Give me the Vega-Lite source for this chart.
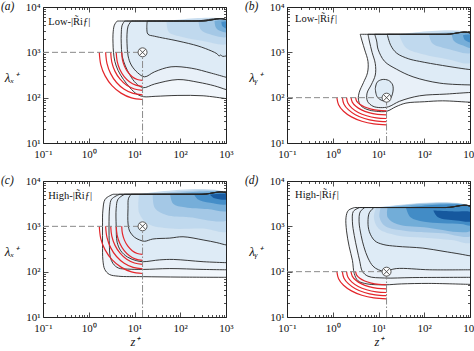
{
 "$schema": "https://vega.github.io/schema/vega-lite/v6.json",
 "padding": {"left": 0, "top": 0, "right": 4, "bottom": 0},
 "background": "white",
 "config": {
  "font": "Liberation Serif",
  "view": {"stroke": "#222", "strokeWidth": 1},
  "style": {"guide-label": {"font": "Liberation Serif", "fontSize": 11}, "guide-title": {"font": "Liberation Serif"}},
  "axis": {"domain": false, "grid": false, "tickColor": "#222", "tickWidth": 0.8, "labelFont": "Liberation Serif", "labelFontSize": 11, "labelColor": "#111", "titleFont": "Liberation Serif", "titleFontSize": 13, "titleFontWeight": "normal", "titleColor": "#111", "labelOverlap": false, "labelFlush": false, "labelBound": false},
  "axisX": {"labelPadding": 10},
  "axisY": {"labelPadding": 8},
  "title": {"font": "Liberation Serif", "fontSize": 11.5, "fontWeight": "normal", "fontStyle": "italic", "color": "#111", "anchor": "start", "frame": "group", "dx": -42, "dy": 15, "offset": 0}
 },
 "datasets": {
  "cont": [
   {"p":"a","id":"a1","lev":1,"i":0,"x":4.17,"y":4900},{"p":"a","id":"a1","lev":1,"i":1,"x":3.63,"y":3980},{"p":"a","id":"a1","lev":1,"i":2,"x":3.39,"y":2510},{"p":"a","id":"a1","lev":1,"i":3,"x":3.39,"y":1585},{"p":"a","id":"a1","lev":1,"i":4,"x":3.47,"y":1000},{"p":"a","id":"a1","lev":1,"i":5,"x":3.72,"y":631},{"p":"a","id":"a1","lev":1,"i":6,"x":4.37,"y":398},{"p":"a","id":"a1","lev":1,"i":7,"x":5.75,"y":251},{"p":"a","id":"a1","lev":1,"i":8,"x":7.94,"y":166},{"p":"a","id":"a1","lev":1,"i":9,"x":11.2,"y":120},{"p":"a","id":"a1","lev":1,"i":10,"x":15.8,"y":105},{"p":"a","id":"a1","lev":1,"i":11,"x":28.2,"y":107},{"p":"a","id":"a1","lev":1,"i":12,"x":89,"y":112},{"p":"a","id":"a1","lev":1,"i":13,"x":316,"y":110},{"p":"a","id":"a1","lev":1,"i":14,"x":1000,"y":95.5},{"p":"a","id":"a1","lev":1,"i":15,"x":1100,"y":95},{"p":"a","id":"a1","lev":1,"i":16,"x":1100,"y":4900},{"p":"a","id":"a1","lev":1,"i":17,"x":300,"y":4900},{"p":"a","id":"a1","lev":1,"i":18,"x":30,"y":4900},{"p":"a","id":"a1","lev":1,"i":19,"x":4.17,"y":4900},
   {"p":"a","id":"a2","lev":2,"i":0,"x":6.1,"y":4900},{"p":"a","id":"a2","lev":2,"i":1,"x":5.37,"y":3980},{"p":"a","id":"a2","lev":2,"i":2,"x":5.13,"y":2510},{"p":"a","id":"a2","lev":2,"i":3,"x":5.13,"y":1585},{"p":"a","id":"a2","lev":2,"i":4,"x":5.37,"y":832},{"p":"a","id":"a2","lev":2,"i":5,"x":6.31,"y":501},{"p":"a","id":"a2","lev":2,"i":6,"x":7.94,"y":316},{"p":"a","id":"a2","lev":2,"i":7,"x":10.7,"y":209},{"p":"a","id":"a2","lev":2,"i":8,"x":15.5,"y":166},{"p":"a","id":"a2","lev":2,"i":9,"x":27.5,"y":200},{"p":"a","id":"a2","lev":2,"i":10,"x":89,"y":251},{"p":"a","id":"a2","lev":2,"i":11,"x":245,"y":219},{"p":"a","id":"a2","lev":2,"i":12,"x":562,"y":182},{"p":"a","id":"a2","lev":2,"i":13,"x":1000,"y":151},{"p":"a","id":"a2","lev":2,"i":14,"x":1100,"y":148},{"p":"a","id":"a2","lev":2,"i":15,"x":1100,"y":4900},{"p":"a","id":"a2","lev":2,"i":16,"x":300,"y":4900},{"p":"a","id":"a2","lev":2,"i":17,"x":30,"y":4900},{"p":"a","id":"a2","lev":2,"i":18,"x":6.1,"y":4900},
   {"p":"a","id":"a3","lev":3,"i":0,"x":8.5,"y":4900},{"p":"a","id":"a3","lev":3,"i":1,"x":7.24,"y":3800},{"p":"a","id":"a3","lev":3,"i":2,"x":6.86,"y":2510},{"p":"a","id":"a3","lev":3,"i":3,"x":6.86,"y":1585},{"p":"a","id":"a3","lev":3,"i":4,"x":7.24,"y":832},{"p":"a","id":"a3","lev":3,"i":5,"x":8.5,"y":525},{"p":"a","id":"a3","lev":3,"i":6,"x":11.7,"y":355},{"p":"a","id":"a3","lev":3,"i":7,"x":16.6,"y":288},{"p":"a","id":"a3","lev":3,"i":8,"x":27.5,"y":372},{"p":"a","id":"a3","lev":3,"i":9,"x":63,"y":479},{"p":"a","id":"a3","lev":3,"i":10,"x":174,"y":447},{"p":"a","id":"a3","lev":3,"i":11,"x":479,"y":347},{"p":"a","id":"a3","lev":3,"i":12,"x":1000,"y":282},{"p":"a","id":"a3","lev":3,"i":13,"x":1100,"y":275},{"p":"a","id":"a3","lev":3,"i":14,"x":1100,"y":4900},{"p":"a","id":"a3","lev":3,"i":15,"x":300,"y":4900},{"p":"a","id":"a3","lev":3,"i":16,"x":40,"y":4900},{"p":"a","id":"a3","lev":3,"i":17,"x":8.5,"y":4900},
   {"p":"a","id":"a4","lev":4,"i":0,"x":19,"y":4900},{"p":"a","id":"a4","lev":4,"i":1,"x":18.6,"y":3548},{"p":"a","id":"a4","lev":4,"i":2,"x":19.7,"y":2510},{"p":"a","id":"a4","lev":4,"i":3,"x":27.5,"y":2265},{"p":"a","id":"a4","lev":4,"i":4,"x":89,"y":1778},{"p":"a","id":"a4","lev":4,"i":5,"x":245,"y":1380},{"p":"a","id":"a4","lev":4,"i":6,"x":479,"y":1072},{"p":"a","id":"a4","lev":4,"i":7,"x":631,"y":933},{"p":"a","id":"a4","lev":4,"i":8,"x":708,"y":832},{"p":"a","id":"a4","lev":4,"i":9,"x":759,"y":871},{"p":"a","id":"a4","lev":4,"i":10,"x":851,"y":813},{"p":"a","id":"a4","lev":4,"i":11,"x":1000,"y":832},{"p":"a","id":"a4","lev":4,"i":12,"x":1100,"y":832},{"p":"a","id":"a4","lev":4,"i":13,"x":1100,"y":4900},{"p":"a","id":"a4","lev":4,"i":14,"x":200,"y":4900},{"p":"a","id":"a4","lev":4,"i":15,"x":19,"y":4900},

   {"p":"b","id":"b1","lev":1,"i":0,"x":3.98,"y":2500},{"p":"b","id":"b1","lev":1,"i":1,"x":4.37,"y":1778},{"p":"b","id":"b1","lev":1,"i":2,"x":5.01,"y":1122},{"p":"b","id":"b1","lev":1,"i":3,"x":5.89,"y":631},{"p":"b","id":"b1","lev":1,"i":4,"x":5.75,"y":355},{"p":"b","id":"b1","lev":1,"i":5,"x":4.68,"y":214},{"p":"b","id":"b1","lev":1,"i":6,"x":3.8,"y":132},{"p":"b","id":"b1","lev":1,"i":7,"x":3.63,"y":93},{"p":"b","id":"b1","lev":1,"i":8,"x":4.07,"y":67.6},{"p":"b","id":"b1","lev":1,"i":9,"x":5.62,"y":55},{"p":"b","id":"b1","lev":1,"i":10,"x":8.91,"y":50.1},{"p":"b","id":"b1","lev":1,"i":11,"x":15.1,"y":50.1},{"p":"b","id":"b1","lev":1,"i":12,"x":24,"y":63.1},{"p":"b","id":"b1","lev":1,"i":13,"x":39.8,"y":75.9},{"p":"b","id":"b1","lev":1,"i":14,"x":100,"y":81.3},{"p":"b","id":"b1","lev":1,"i":15,"x":251,"y":85.1},{"p":"b","id":"b1","lev":1,"i":16,"x":1000,"y":79.4},{"p":"b","id":"b1","lev":1,"i":17,"x":1100,"y":79.4},{"p":"b","id":"b1","lev":1,"i":18,"x":1100,"y":2500},{"p":"b","id":"b1","lev":1,"i":19,"x":300,"y":2500},{"p":"b","id":"b1","lev":1,"i":20,"x":30,"y":2500},{"p":"b","id":"b1","lev":1,"i":21,"x":3.98,"y":2500},
   {"p":"b","id":"b2","lev":2,"i":0,"x":5.89,"y":2500},{"p":"b","id":"b2","lev":2,"i":1,"x":6.31,"y":1778},{"p":"b","id":"b2","lev":2,"i":2,"x":7.24,"y":1000},{"p":"b","id":"b2","lev":2,"i":3,"x":8.51,"y":562},{"p":"b","id":"b2","lev":2,"i":4,"x":8.51,"y":316},{"p":"b","id":"b2","lev":2,"i":5,"x":6.92,"y":191},{"p":"b","id":"b2","lev":2,"i":6,"x":5.62,"y":126},{"p":"b","id":"b2","lev":2,"i":7,"x":5.75,"y":83.2},{"p":"b","id":"b2","lev":2,"i":8,"x":7.59,"y":64.6},{"p":"b","id":"b2","lev":2,"i":9,"x":11.2,"y":60.3},{"p":"b","id":"b2","lev":2,"i":10,"x":16.6,"y":63.1},{"p":"b","id":"b2","lev":2,"i":11,"x":28.8,"y":83.2},{"p":"b","id":"b2","lev":2,"i":12,"x":79.4,"y":110},{"p":"b","id":"b2","lev":2,"i":13,"x":302,"y":120},{"p":"b","id":"b2","lev":2,"i":14,"x":1000,"y":130},{"p":"b","id":"b2","lev":2,"i":15,"x":1100,"y":130},{"p":"b","id":"b2","lev":2,"i":16,"x":1100,"y":2500},{"p":"b","id":"b2","lev":2,"i":17,"x":300,"y":2500},{"p":"b","id":"b2","lev":2,"i":18,"x":30,"y":2500},{"p":"b","id":"b2","lev":2,"i":19,"x":5.89,"y":2500},
   {"p":"b","id":"b3","lev":3,"i":0,"x":8.26,"y":2500},{"p":"b","id":"b3","lev":3,"i":1,"x":9.12,"y":1778},{"p":"b","id":"b3","lev":3,"i":2,"x":9.77,"y":1175},{"p":"b","id":"b3","lev":3,"i":3,"x":13.6,"y":631},{"p":"b","id":"b3","lev":3,"i":4,"x":24.5,"y":427},{"p":"b","id":"b3","lev":3,"i":5,"x":56.9,"y":288},{"p":"b","id":"b3","lev":3,"i":6,"x":219,"y":209},{"p":"b","id":"b3","lev":3,"i":7,"x":1000,"y":191},{"p":"b","id":"b3","lev":3,"i":8,"x":1100,"y":191},{"p":"b","id":"b3","lev":3,"i":9,"x":1100,"y":2500},{"p":"b","id":"b3","lev":3,"i":10,"x":300,"y":2500},{"p":"b","id":"b3","lev":3,"i":11,"x":30,"y":2500},{"p":"b","id":"b3","lev":3,"i":12,"x":8.26,"y":2500},
   {"p":"b","id":"b4","lev":4,"i":0,"x":15.5,"y":2500},{"p":"b","id":"b4","lev":4,"i":1,"x":18.6,"y":1413},{"p":"b","id":"b4","lev":4,"i":2,"x":25.1,"y":955},{"p":"b","id":"b4","lev":4,"i":3,"x":44.7,"y":724},{"p":"b","id":"b4","lev":4,"i":4,"x":79.4,"y":631},{"p":"b","id":"b4","lev":4,"i":5,"x":251,"y":513},{"p":"b","id":"b4","lev":4,"i":6,"x":1000,"y":417},{"p":"b","id":"b4","lev":4,"i":7,"x":1100,"y":417},{"p":"b","id":"b4","lev":4,"i":8,"x":1100,"y":2500},{"p":"b","id":"b4","lev":4,"i":9,"x":300,"y":2500},{"p":"b","id":"b4","lev":4,"i":10,"x":40,"y":2500},{"p":"b","id":"b4","lev":4,"i":11,"x":15.5,"y":2500},
   {"p":"b","id":"b5","lev":3,"i":0,"x":8.51,"y":158},{"p":"b","id":"b5","lev":3,"i":1,"x":9.33,"y":219},{"p":"b","id":"b5","lev":3,"i":2,"x":12,"y":251},{"p":"b","id":"b5","lev":3,"i":3,"x":16.6,"y":240},{"p":"b","id":"b5","lev":3,"i":4,"x":20.4,"y":191},{"p":"b","id":"b5","lev":3,"i":5,"x":20.4,"y":126},{"p":"b","id":"b5","lev":3,"i":6,"x":17.4,"y":91.2},{"p":"b","id":"b5","lev":3,"i":7,"x":12.6,"y":85.1},{"p":"b","id":"b5","lev":3,"i":8,"x":9.33,"y":105},{"p":"b","id":"b5","lev":3,"i":9,"x":8.51,"y":158},

   {"p":"c","id":"c1","lev":1,"i":0,"x":3.39,"y":5100},{"p":"c","id":"c1","lev":1,"i":1,"x":2.29,"y":3980},{"p":"c","id":"c1","lev":1,"i":2,"x":2.04,"y":2290},{"p":"c","id":"c1","lev":1,"i":3,"x":2,"y":1000},{"p":"c","id":"c1","lev":1,"i":4,"x":2,"y":398},{"p":"c","id":"c1","lev":1,"i":5,"x":2.04,"y":178},{"p":"c","id":"c1","lev":1,"i":6,"x":2.24,"y":112},{"p":"c","id":"c1","lev":1,"i":7,"x":2.82,"y":87},{"p":"c","id":"c1","lev":1,"i":8,"x":4.47,"y":79.4},{"p":"c","id":"c1","lev":1,"i":9,"x":15.5,"y":77.6},{"p":"c","id":"c1","lev":1,"i":10,"x":100,"y":75.9},{"p":"c","id":"c1","lev":1,"i":11,"x":1000,"y":75},{"p":"c","id":"c1","lev":1,"i":12,"x":1100,"y":75},{"p":"c","id":"c1","lev":1,"i":13,"x":1100,"y":5100},{"p":"c","id":"c1","lev":1,"i":14,"x":300,"y":5100},{"p":"c","id":"c1","lev":1,"i":15,"x":30,"y":5100},{"p":"c","id":"c1","lev":1,"i":16,"x":3.39,"y":5100},
   {"p":"c","id":"c2","lev":2,"i":0,"x":4.75,"y":5100},{"p":"c","id":"c2","lev":2,"i":1,"x":3.16,"y":3980},{"p":"c","id":"c2","lev":2,"i":2,"x":2.87,"y":2690},{"p":"c","id":"c2","lev":2,"i":3,"x":2.77,"y":1000},{"p":"c","id":"c2","lev":2,"i":4,"x":2.82,"y":398},{"p":"c","id":"c2","lev":2,"i":5,"x":2.95,"y":214},{"p":"c","id":"c2","lev":2,"i":6,"x":3.39,"y":151},{"p":"c","id":"c2","lev":2,"i":7,"x":4.47,"y":120},{"p":"c","id":"c2","lev":2,"i":8,"x":7.08,"y":114},{"p":"c","id":"c2","lev":2,"i":9,"x":15.5,"y":112},{"p":"c","id":"c2","lev":2,"i":10,"x":59,"y":117},{"p":"c","id":"c2","lev":2,"i":11,"x":316,"y":112},{"p":"c","id":"c2","lev":2,"i":12,"x":1000,"y":110},{"p":"c","id":"c2","lev":2,"i":13,"x":1100,"y":110},{"p":"c","id":"c2","lev":2,"i":14,"x":1100,"y":5100},{"p":"c","id":"c2","lev":2,"i":15,"x":300,"y":5100},{"p":"c","id":"c2","lev":2,"i":16,"x":30,"y":5100},{"p":"c","id":"c2","lev":2,"i":17,"x":4.75,"y":5100},
   {"p":"c","id":"c3","lev":3,"i":0,"x":6.1,"y":5100},{"p":"c","id":"c3","lev":3,"i":1,"x":4.37,"y":3980},{"p":"c","id":"c3","lev":3,"i":2,"x":3.98,"y":2510},{"p":"c","id":"c3","lev":3,"i":3,"x":3.98,"y":1000},{"p":"c","id":"c3","lev":3,"i":4,"x":4.17,"y":447},{"p":"c","id":"c3","lev":3,"i":5,"x":5.01,"y":288},{"p":"c","id":"c3","lev":3,"i":6,"x":7.08,"y":209},{"p":"c","id":"c3","lev":3,"i":7,"x":11.2,"y":174},{"p":"c","id":"c3","lev":3,"i":8,"x":15.5,"y":166},{"p":"c","id":"c3","lev":3,"i":9,"x":35.5,"y":182},{"p":"c","id":"c3","lev":3,"i":10,"x":71,"y":186},{"p":"c","id":"c3","lev":3,"i":11,"x":316,"y":166},{"p":"c","id":"c3","lev":3,"i":12,"x":1000,"y":158},{"p":"c","id":"c3","lev":3,"i":13,"x":1100,"y":158},{"p":"c","id":"c3","lev":3,"i":14,"x":1100,"y":5100},{"p":"c","id":"c3","lev":3,"i":15,"x":300,"y":5100},{"p":"c","id":"c3","lev":3,"i":16,"x":30,"y":5100},{"p":"c","id":"c3","lev":3,"i":17,"x":6.1,"y":5100},
   {"p":"c","id":"c4","lev":4,"i":0,"x":8.5,"y":5100},{"p":"c","id":"c4","lev":4,"i":1,"x":7.41,"y":4169},{"p":"c","id":"c4","lev":4,"i":2,"x":7.21,"y":2510},{"p":"c","id":"c4","lev":4,"i":3,"x":7.24,"y":1122},{"p":"c","id":"c4","lev":4,"i":4,"x":7.94,"y":759},{"p":"c","id":"c4","lev":4,"i":5,"x":10,"y":575},{"p":"c","id":"c4","lev":4,"i":6,"x":12.9,"y":501},{"p":"c","id":"c4","lev":4,"i":7,"x":16.6,"y":468},{"p":"c","id":"c4","lev":4,"i":8,"x":25.1,"y":525},{"p":"c","id":"c4","lev":4,"i":9,"x":59,"y":550},{"p":"c","id":"c4","lev":4,"i":10,"x":115,"y":589},{"p":"c","id":"c4","lev":4,"i":11,"x":316,"y":501},{"p":"c","id":"c4","lev":4,"i":12,"x":631,"y":437},{"p":"c","id":"c4","lev":4,"i":13,"x":1000,"y":389},{"p":"c","id":"c4","lev":4,"i":14,"x":1100,"y":389},{"p":"c","id":"c4","lev":4,"i":15,"x":1100,"y":5100},{"p":"c","id":"c4","lev":4,"i":16,"x":300,"y":5100},{"p":"c","id":"c4","lev":4,"i":17,"x":30,"y":5100},{"p":"c","id":"c4","lev":4,"i":18,"x":8.5,"y":5100},

   {"p":"d","id":"d1","lev":1,"i":0,"x":3.02,"y":2600},{"p":"d","id":"d1","lev":1,"i":1,"x":2.19,"y":2239},{"p":"d","id":"d1","lev":1,"i":2,"x":1.95,"y":1585},{"p":"d","id":"d1","lev":1,"i":3,"x":2,"y":794},{"p":"d","id":"d1","lev":1,"i":4,"x":2.29,"y":355},{"p":"d","id":"d1","lev":1,"i":5,"x":2.69,"y":178},{"p":"d","id":"d1","lev":1,"i":6,"x":2.95,"y":91.2},{"p":"d","id":"d1","lev":1,"i":7,"x":3.55,"y":63.1},{"p":"d","id":"d1","lev":1,"i":8,"x":5.62,"y":53.7},{"p":"d","id":"d1","lev":1,"i":9,"x":14.1,"y":51.3},{"p":"d","id":"d1","lev":1,"i":10,"x":31.6,"y":53.7},{"p":"d","id":"d1","lev":1,"i":11,"x":126,"y":55},{"p":"d","id":"d1","lev":1,"i":12,"x":1000,"y":52.5},{"p":"d","id":"d1","lev":1,"i":13,"x":1100,"y":52.5},{"p":"d","id":"d1","lev":1,"i":14,"x":1100,"y":2600},{"p":"d","id":"d1","lev":1,"i":15,"x":300,"y":2600},{"p":"d","id":"d1","lev":1,"i":16,"x":30,"y":2600},{"p":"d","id":"d1","lev":1,"i":17,"x":3.02,"y":2600},
   {"p":"d","id":"d2","lev":2,"i":0,"x":3.89,"y":2600},{"p":"d","id":"d2","lev":2,"i":1,"x":2.82,"y":2138},{"p":"d","id":"d2","lev":2,"i":2,"x":2.69,"y":1259},{"p":"d","id":"d2","lev":2,"i":3,"x":2.95,"y":631},{"p":"d","id":"d2","lev":2,"i":4,"x":3.39,"y":316},{"p":"d","id":"d2","lev":2,"i":5,"x":3.89,"y":170},{"p":"d","id":"d2","lev":2,"i":6,"x":4.43,"y":102},{"p":"d","id":"d2","lev":2,"i":7,"x":5.89,"y":79.4},{"p":"d","id":"d2","lev":2,"i":8,"x":13.6,"y":72.4},{"p":"d","id":"d2","lev":2,"i":9,"x":56.2,"y":74.1},{"p":"d","id":"d2","lev":2,"i":10,"x":1000,"y":75},{"p":"d","id":"d2","lev":2,"i":11,"x":1100,"y":75},{"p":"d","id":"d2","lev":2,"i":12,"x":1100,"y":2600},{"p":"d","id":"d2","lev":2,"i":13,"x":300,"y":2600},{"p":"d","id":"d2","lev":2,"i":14,"x":30,"y":2600},{"p":"d","id":"d2","lev":2,"i":15,"x":3.89,"y":2600},
   {"p":"d","id":"d3","lev":3,"i":0,"x":5.01,"y":2600},{"p":"d","id":"d3","lev":3,"i":1,"x":3.98,"y":2089},{"p":"d","id":"d3","lev":3,"i":2,"x":3.76,"y":1259},{"p":"d","id":"d3","lev":3,"i":3,"x":4.17,"y":631},{"p":"d","id":"d3","lev":3,"i":4,"x":4.79,"y":355},{"p":"d","id":"d3","lev":3,"i":5,"x":5.89,"y":200},{"p":"d","id":"d3","lev":3,"i":6,"x":7.59,"y":132},{"p":"d","id":"d3","lev":3,"i":7,"x":10,"y":110},{"p":"d","id":"d3","lev":3,"i":8,"x":13.6,"y":102},{"p":"d","id":"d3","lev":3,"i":9,"x":24.5,"y":117},{"p":"d","id":"d3","lev":3,"i":10,"x":132,"y":110},{"p":"d","id":"d3","lev":3,"i":11,"x":1000,"y":110},{"p":"d","id":"d3","lev":3,"i":12,"x":1100,"y":110},{"p":"d","id":"d3","lev":3,"i":13,"x":1100,"y":2600},{"p":"d","id":"d3","lev":3,"i":14,"x":300,"y":2600},{"p":"d","id":"d3","lev":3,"i":15,"x":30,"y":2600},{"p":"d","id":"d3","lev":3,"i":16,"x":5.01,"y":2600},
   {"p":"d","id":"d4","lev":4,"i":0,"x":7.94,"y":2600},{"p":"d","id":"d4","lev":4,"i":1,"x":6.31,"y":1995},{"p":"d","id":"d4","lev":4,"i":2,"x":5.89,"y":1259},{"p":"d","id":"d4","lev":4,"i":3,"x":6.31,"y":759},{"p":"d","id":"d4","lev":4,"i":4,"x":8.32,"y":479},{"p":"d","id":"d4","lev":4,"i":5,"x":12.6,"y":398},{"p":"d","id":"d4","lev":4,"i":6,"x":24.5,"y":363},{"p":"d","id":"d4","lev":4,"i":7,"x":93.3,"y":331},{"p":"d","id":"d4","lev":4,"i":8,"x":257,"y":282},{"p":"d","id":"d4","lev":4,"i":9,"x":603,"y":245},{"p":"d","id":"d4","lev":4,"i":10,"x":1000,"y":224},{"p":"d","id":"d4","lev":4,"i":11,"x":1100,"y":224},{"p":"d","id":"d4","lev":4,"i":12,"x":1100,"y":2600},{"p":"d","id":"d4","lev":4,"i":13,"x":300,"y":2600},{"p":"d","id":"d4","lev":4,"i":14,"x":30,"y":2600},{"p":"d","id":"d4","lev":4,"i":15,"x":7.94,"y":2600}
  ],
  "shade": [
   {"p":"a","id":"sa1","lev":5,"i":0,"x":50.1,"y":4900},{"p":"a","id":"sa1","lev":5,"i":1,"x":56.2,"y":2818},{"p":"a","id":"sa1","lev":5,"i":2,"x":100,"y":2239},{"p":"a","id":"sa1","lev":5,"i":3,"x":316,"y":1778},{"p":"a","id":"sa1","lev":5,"i":4,"x":1100,"y":1585},{"p":"a","id":"sa1","lev":5,"i":5,"x":1100,"y":4900},{"p":"a","id":"sa1","lev":5,"i":6,"x":50.1,"y":4900},
   {"p":"a","id":"sa2","lev":6,"i":0,"x":251,"y":4900},{"p":"a","id":"sa2","lev":6,"i":1,"x":282,"y":3162},{"p":"a","id":"sa2","lev":6,"i":2,"x":447,"y":2512},{"p":"a","id":"sa2","lev":6,"i":3,"x":1100,"y":2239},{"p":"a","id":"sa2","lev":6,"i":4,"x":1100,"y":4900},{"p":"a","id":"sa2","lev":6,"i":5,"x":251,"y":4900},
   {"p":"a","id":"sa3","lev":7,"i":0,"x":562,"y":4900},{"p":"a","id":"sa3","lev":7,"i":1,"x":600,"y":3548},{"p":"a","id":"sa3","lev":7,"i":2,"x":760,"y":2951},{"p":"a","id":"sa3","lev":7,"i":3,"x":1100,"y":2818},{"p":"a","id":"sa3","lev":7,"i":4,"x":1100,"y":4900},{"p":"a","id":"sa3","lev":7,"i":5,"x":562,"y":4900},
   {"p":"a","id":"sa4","lev":8,"i":0,"x":794,"y":4700},{"p":"a","id":"sa4","lev":8,"i":1,"x":830,"y":3800},{"p":"a","id":"sa4","lev":8,"i":2,"x":1100,"y":3300},{"p":"a","id":"sa4","lev":8,"i":3,"x":1100,"y":4700},{"p":"a","id":"sa4","lev":8,"i":4,"x":794,"y":4700},
   {"p":"b","id":"sb1","lev":5,"i":0,"x":28.2,"y":2500},{"p":"b","id":"sb1","lev":5,"i":1,"x":39.8,"y":1259},{"p":"b","id":"sb1","lev":5,"i":2,"x":100,"y":891},{"p":"b","id":"sb1","lev":5,"i":3,"x":316,"y":708},{"p":"b","id":"sb1","lev":5,"i":4,"x":1100,"y":603},{"p":"b","id":"sb1","lev":5,"i":5,"x":1100,"y":2500},{"p":"b","id":"sb1","lev":5,"i":6,"x":28.2,"y":2500},
   {"p":"b","id":"sb2","lev":6,"i":0,"x":126,"y":2500},{"p":"b","id":"sb2","lev":6,"i":1,"x":150,"y":1585},{"p":"b","id":"sb2","lev":6,"i":2,"x":316,"y":1202},{"p":"b","id":"sb2","lev":6,"i":3,"x":1100,"y":1000},{"p":"b","id":"sb2","lev":6,"i":4,"x":1100,"y":2500},{"p":"b","id":"sb2","lev":6,"i":5,"x":126,"y":2500},
   {"p":"b","id":"sb3","lev":7,"i":0,"x":398,"y":2500},{"p":"b","id":"sb3","lev":7,"i":1,"x":447,"y":1778},{"p":"b","id":"sb3","lev":7,"i":2,"x":708,"y":1413},{"p":"b","id":"sb3","lev":7,"i":3,"x":1100,"y":1259},{"p":"b","id":"sb3","lev":7,"i":4,"x":1100,"y":2500},{"p":"b","id":"sb3","lev":7,"i":5,"x":398,"y":2500},
   {"p":"b","id":"sb4","lev":8,"i":0,"x":708,"y":2400},{"p":"b","id":"sb4","lev":8,"i":1,"x":760,"y":1905},{"p":"b","id":"sb4","lev":8,"i":2,"x":1100,"y":1660},{"p":"b","id":"sb4","lev":8,"i":3,"x":1100,"y":2400},{"p":"b","id":"sb4","lev":8,"i":4,"x":708,"y":2400},
   {"p":"c","id":"sc1","lev":5,"i":0,"x":12.6,"y":5100},{"p":"c","id":"sc1","lev":5,"i":1,"x":12.6,"y":1995},{"p":"c","id":"sc1","lev":5,"i":2,"x":20,"y":1122},{"p":"c","id":"sc1","lev":5,"i":3,"x":63.1,"y":891},{"p":"c","id":"sc1","lev":5,"i":4,"x":316,"y":891},{"p":"c","id":"sc1","lev":5,"i":5,"x":1100,"y":794},{"p":"c","id":"sc1","lev":5,"i":6,"x":1100,"y":5100},{"p":"c","id":"sc1","lev":5,"i":7,"x":12.6,"y":5100},
   {"p":"c","id":"sc2","lev":6,"i":0,"x":25,"y":5100},{"p":"c","id":"sc2","lev":6,"i":1,"x":28,"y":2512},{"p":"c","id":"sc2","lev":6,"i":2,"x":50,"y":1778},{"p":"c","id":"sc2","lev":6,"i":3,"x":158,"y":1585},{"p":"c","id":"sc2","lev":6,"i":4,"x":1100,"y":1413},{"p":"c","id":"sc2","lev":6,"i":5,"x":1100,"y":5100},{"p":"c","id":"sc2","lev":6,"i":6,"x":25,"y":5100},
   {"p":"c","id":"sc3","lev":7,"i":0,"x":60,"y":5100},{"p":"c","id":"sc3","lev":7,"i":1,"x":70,"y":3162},{"p":"c","id":"sc3","lev":7,"i":2,"x":126,"y":2630},{"p":"c","id":"sc3","lev":7,"i":3,"x":398,"y":2399},{"p":"c","id":"sc3","lev":7,"i":4,"x":1100,"y":2239},{"p":"c","id":"sc3","lev":7,"i":5,"x":1100,"y":5100},{"p":"c","id":"sc3","lev":7,"i":6,"x":60,"y":5100},
   {"p":"c","id":"sc4","lev":8,"i":0,"x":200,"y":5100},{"p":"c","id":"sc4","lev":8,"i":1,"x":240,"y":3981},{"p":"c","id":"sc4","lev":8,"i":2,"x":447,"y":3311},{"p":"c","id":"sc4","lev":8,"i":3,"x":1100,"y":3162},{"p":"c","id":"sc4","lev":8,"i":4,"x":1100,"y":5100},{"p":"c","id":"sc4","lev":8,"i":5,"x":200,"y":5100},
   {"p":"c","id":"sc5","lev":9,"i":0,"x":447,"y":5000},{"p":"c","id":"sc5","lev":9,"i":1,"x":562,"y":4169},{"p":"c","id":"sc5","lev":9,"i":2,"x":1100,"y":3981},{"p":"c","id":"sc5","lev":9,"i":3,"x":1100,"y":5000},{"p":"c","id":"sc5","lev":9,"i":4,"x":447,"y":5000},
   {"p":"d","id":"sd1","lev":5,"i":0,"x":8.91,"y":2600},{"p":"d","id":"sd1","lev":5,"i":1,"x":7.94,"y":1585},{"p":"d","id":"sd1","lev":5,"i":2,"x":10,"y":891},{"p":"d","id":"sd1","lev":5,"i":3,"x":25.1,"y":631},{"p":"d","id":"sd1","lev":5,"i":4,"x":100,"y":562},{"p":"d","id":"sd1","lev":5,"i":5,"x":398,"y":501},{"p":"d","id":"sd1","lev":5,"i":6,"x":1100,"y":447},{"p":"d","id":"sd1","lev":5,"i":7,"x":1100,"y":2600},{"p":"d","id":"sd1","lev":5,"i":8,"x":8.91,"y":2600},
   {"p":"d","id":"sd2","lev":6,"i":0,"x":11.2,"y":2600},{"p":"d","id":"sd2","lev":6,"i":1,"x":10.5,"y":1585},{"p":"d","id":"sd2","lev":6,"i":2,"x":14.1,"y":1000},{"p":"d","id":"sd2","lev":6,"i":3,"x":39.8,"y":794},{"p":"d","id":"sd2","lev":6,"i":4,"x":251,"y":708},{"p":"d","id":"sd2","lev":6,"i":5,"x":1100,"y":631},{"p":"d","id":"sd2","lev":6,"i":6,"x":1100,"y":2600},{"p":"d","id":"sd2","lev":6,"i":7,"x":11.2,"y":2600},
   {"p":"d","id":"sd3","lev":7,"i":0,"x":15.8,"y":2600},{"p":"d","id":"sd3","lev":7,"i":1,"x":15.8,"y":1585},{"p":"d","id":"sd3","lev":7,"i":2,"x":25.1,"y":1122},{"p":"d","id":"sd3","lev":7,"i":3,"x":100,"y":955},{"p":"d","id":"sd3","lev":7,"i":4,"x":1100,"y":832},{"p":"d","id":"sd3","lev":7,"i":5,"x":1100,"y":2600},{"p":"d","id":"sd3","lev":7,"i":6,"x":15.8,"y":2600},
   {"p":"d","id":"sd4","lev":8,"i":0,"x":39.8,"y":2600},{"p":"d","id":"sd4","lev":8,"i":1,"x":50.1,"y":1585},{"p":"d","id":"sd4","lev":8,"i":2,"x":100,"y":1259},{"p":"d","id":"sd4","lev":8,"i":3,"x":631,"y":1122},{"p":"d","id":"sd4","lev":8,"i":4,"x":1100,"y":1072},{"p":"d","id":"sd4","lev":8,"i":5,"x":1100,"y":2600},{"p":"d","id":"sd4","lev":8,"i":6,"x":39.8,"y":2600},
   {"p":"d","id":"sd5","lev":9,"i":0,"x":158,"y":2239},{"p":"d","id":"sd5","lev":9,"i":1,"x":200,"y":1585},{"p":"d","id":"sd5","lev":9,"i":2,"x":501,"y":1349},{"p":"d","id":"sd5","lev":9,"i":3,"x":1100,"y":1318},{"p":"d","id":"sd5","lev":9,"i":4,"x":1100,"y":1995},{"p":"d","id":"sd5","lev":9,"i":5,"x":398,"y":2138},{"p":"d","id":"sd5","lev":9,"i":6,"x":158,"y":2239}
  ],
  "red": [
   {"s":"ac","id":"r1","i":0,"x":1.7,"y":1000},{"s":"ac","id":"r1","i":1,"x":1.83,"y":538},{"s":"ac","id":"r1","i":2,"x":2.28,"y":302},{"s":"ac","id":"r1","i":3,"x":3.22,"y":184},{"s":"ac","id":"r1","i":4,"x":5.07,"y":126},{"s":"ac","id":"r1","i":5,"x":8.59,"y":98.9},{"s":"ac","id":"r1","i":6,"x":15,"y":91.2},
   {"s":"ac","id":"r2","i":0,"x":2.34,"y":1000},{"s":"ac","id":"r2","i":1,"x":2.5,"y":571},{"s":"ac","id":"r2","i":2,"x":3.01,"y":339},{"s":"ac","id":"r2","i":3,"x":4.05,"y":216},{"s":"ac","id":"r2","i":4,"x":5.96,"y":153},{"s":"ac","id":"r2","i":5,"x":9.33,"y":124},{"s":"ac","id":"r2","i":6,"x":15,"y":115},
   {"s":"ac","id":"r3","i":0,"x":3.02,"y":1000},{"s":"ac","id":"r3","i":1,"x":3.19,"y":605},{"s":"ac","id":"r3","i":2,"x":3.75,"y":380},{"s":"ac","id":"r3","i":3,"x":4.84,"y":255},{"s":"ac","id":"r3","i":4,"x":6.76,"y":187},{"s":"ac","id":"r3","i":5,"x":9.98,"y":155},{"s":"ac","id":"r3","i":6,"x":15,"y":145},
   {"s":"ac","id":"r4","i":0,"x":3.98,"y":1000},{"s":"ac","id":"r4","i":1,"x":4.17,"y":640},{"s":"ac","id":"r4","i":2,"x":4.76,"y":422},{"s":"ac","id":"r4","i":3,"x":5.89,"y":295},{"s":"ac","id":"r4","i":4,"x":7.76,"y":224},{"s":"ac","id":"r4","i":5,"x":10.7,"y":189},{"s":"ac","id":"r4","i":6,"x":15,"y":178},
   {"s":"ac","id":"r5","i":0,"x":5.25,"y":1000},{"s":"ac","id":"r5","i":1,"x":5.45,"y":690},{"s":"ac","id":"r5","i":2,"x":6.05,"y":490},{"s":"ac","id":"r5","i":3,"x":7.16,"y":365},{"s":"ac","id":"r5","i":4,"x":8.91,"y":290},{"s":"ac","id":"r5","i":5,"x":11.5,"y":252},{"s":"ac","id":"r5","i":6,"x":15,"y":240},
   {"s":"bd","id":"r1","i":0,"x":1.23,"y":100},{"s":"bd","id":"r1","i":1,"x":1.34,"y":70},{"s":"bd","id":"r1","i":2,"x":1.72,"y":50.1},{"s":"bd","id":"r1","i":3,"x":2.56,"y":37.7},{"s":"bd","id":"r1","i":4,"x":4.32,"y":30.2},{"s":"bd","id":"r1","i":5,"x":7.91,"y":26.3},{"s":"bd","id":"r1","i":6,"x":15,"y":25.1},
   {"s":"bd","id":"r2","i":0,"x":1.62,"y":100},{"s":"bd","id":"r2","i":1,"x":1.75,"y":72.9},{"s":"bd","id":"r2","i":2,"x":2.19,"y":54.3},{"s":"bd","id":"r2","i":3,"x":3.12,"y":42.2},{"s":"bd","id":"r2","i":4,"x":4.95,"y":34.8},{"s":"bd","id":"r2","i":5,"x":8.49,"y":30.8},{"s":"bd","id":"r2","i":6,"x":15,"y":29.5},
   {"s":"bd","id":"r3","i":0,"x":2,"y":100},{"s":"bd","id":"r3","i":1,"x":2.14,"y":76},{"s":"bd","id":"r3","i":2,"x":2.62,"y":58.9},{"s":"bd","id":"r3","i":3,"x":3.61,"y":47.3},{"s":"bd","id":"r3","i":4,"x":5.5,"y":40},{"s":"bd","id":"r3","i":5,"x":8.95,"y":36},{"s":"bd","id":"r3","i":6,"x":15,"y":34.7},
   {"s":"bd","id":"r4","i":0,"x":2.51,"y":100},{"s":"bd","id":"r4","i":1,"x":2.67,"y":79.8},{"s":"bd","id":"r4","i":2,"x":3.2,"y":64.6},{"s":"bd","id":"r4","i":3,"x":4.26,"y":53.8},{"s":"bd","id":"r4","i":4,"x":6.17,"y":46.9},{"s":"bd","id":"r4","i":5,"x":9.51,"y":43},{"s":"bd","id":"r4","i":6,"x":15,"y":41.7},
   {"s":"bd","id":"r5","i":0,"x":3.16,"y":100},{"s":"bd","id":"r5","i":1,"x":3.33,"y":84.1},{"s":"bd","id":"r5","i":2,"x":3.9,"y":71.6},{"s":"bd","id":"r5","i":3,"x":5,"y":62.4},{"s":"bd","id":"r5","i":4,"x":6.92,"y":56.1},{"s":"bd","id":"r5","i":5,"x":10.1,"y":52.5},{"s":"bd","id":"r5","i":6,"x":15,"y":51.3}
  ],
  "guide": [
   {"s":"ac","id":"h","i":0,"x":0.1,"y":1000},{"s":"ac","id":"h","i":1,"x":15,"y":1000},{"s":"ac","id":"v","i":0,"x":15,"y":10},{"s":"ac","id":"v","i":1,"x":15,"y":1000},
   {"s":"bd","id":"h","i":0,"x":0.1,"y":100},{"s":"bd","id":"h","i":1,"x":15,"y":100},{"s":"bd","id":"v","i":0,"x":15,"y":10},{"s":"bd","id":"v","i":1,"x":15,"y":100}
  ],
  "mk": [{"s":"ac","x":15,"y":1000},{"s":"bd","x":15,"y":100}],
  "lab": [
   {"p":"a","x":0.13,"y":4700,"t":"Low-|R̃iƒ|"},
   {"p":"b","x":0.15,"y":5300,"t":"Low-|R̃iƒ|"},
   {"p":"c","x":0.13,"y":4700,"t":"High-|R̃iƒ|"},
   {"p":"d","x":0.15,"y":5000,"t":"High-|R̃iƒ|"}
  ]
 },
 "columns": 2,
 "spacing": {"row": 38, "column": 61},
 "bounds": "flush",
 "concat": [
  {
   "width": 183, "height": 136,
   "title": {"text": "(a)"},
   "layer": [
    {"data": {"name": "cont"}, "transform": [{"filter": "datum.p=='a'"}],
     "mark": {"type": "line", "interpolate": "catmull-rom", "strokeWidth": 0, "clip": true},
     "encoding": {
      "x": {"field": "x", "type": "quantitative", "scale": {"type": "log", "domain": [0.1, 1000]},
       "axis": {"orient": "bottom", "title": null, "labelFont": "Liberation Serif", "values": [0.1,0.2,0.3,0.4,0.5,0.6,0.7,0.8,0.9,1,2,3,4,5,6,7,8,9,10,20,30,40,50,60,70,80,90,100,200,300,400,500,600,700,800,900,1000], "labelExpr": "datum.value==0.1?'10⁻¹':datum.value==1?'10⁰':datum.value==10?'10¹':datum.value==100?'10²':datum.value==1000?'10³':''", "tickSize": {"condition": {"test": "indexof([0.1,1,10,100,1000,10000],datum.value)>=0", "value": -5}, "value": -2.5}}},
      "y": {"field": "y", "type": "quantitative", "scale": {"type": "log", "domain": [10, 10000]},
       "axis": {"orient": "left", "title": "λₓ⁺", "labelFont": "Liberation Serif", "titleAngle": 0, "titleFontStyle": "italic", "titleX": -32, "titleY": 70, "titleAlign": "center", "titleBaseline": "middle", "values": [10,20,30,40,50,60,70,80,90,100,200,300,400,500,600,700,800,900,1000,2000,3000,4000,5000,6000,7000,8000,9000,10000], "labelExpr": "datum.value==10?'10¹':datum.value==100?'10²':datum.value==1000?'10³':datum.value==10000?'10⁴':''", "tickSize": {"condition": {"test": "indexof([0.1,1,10,100,1000,10000],datum.value)>=0", "value": -5}, "value": -2.5}}},
      "detail": {"field": "id"}, "order": {"field": "i", "type": "quantitative"},
      "fill": {"field": "lev", "type": "ordinal", "scale": {"domain": [1,2,3,4,5,6,7,8,9], "range": ["#f1f6fb","#e8f0f8","#deebf6","#d3e4f2","#bcd6ec","#9cc3e3","#6aa8d6","#3a86c3","#0e4f96"]}, "legend": null}
     }},
    {"data": {"name": "shade"}, "transform": [{"filter": "datum.p=='a'"}],
     "mark": {"type": "line", "interpolate": "catmull-rom", "strokeWidth": 0, "clip": true, "fillOpacity": 0.8},
     "encoding": {"x": {"field": "x", "type": "quantitative", "axis": null}, "y": {"field": "y", "type": "quantitative", "axis": null}, "detail": {"field": "id"}, "order": {"field": "i", "type": "quantitative"}, "fill": {"field": "lev", "type": "ordinal", "legend": null}}},
    {"data": {"name": "cont"}, "transform": [{"filter": "datum.p=='a'"}],
     "mark": {"type": "line", "interpolate": "catmull-rom", "color": "#262626", "strokeWidth": 0.9, "clip": true},
     "encoding": {"x": {"field": "x", "type": "quantitative", "axis": null}, "y": {"field": "y", "type": "quantitative", "axis": null}, "detail": {"field": "id"}, "order": {"field": "i", "type": "quantitative"}}},
    {"data": {"name": "red"}, "transform": [{"filter": "datum.s=='ac'"}],
     "mark": {"type": "line", "interpolate": "catmull-rom", "color": "#e3262b", "strokeWidth": 1.2},
     "encoding": {"x": {"field": "x", "type": "quantitative", "axis": null}, "y": {"field": "y", "type": "quantitative", "axis": null}, "detail": {"field": "id"}, "order": {"field": "i", "type": "quantitative"}}},
    {"data": {"name": "guide"}, "transform": [{"filter": "datum.s=='ac'"}],
     "mark": {"type": "line", "color": "#8a8a8a", "strokeWidth": 1},
     "encoding": {"x": {"field": "x", "type": "quantitative", "axis": null}, "y": {"field": "y", "type": "quantitative", "axis": null}, "detail": {"field": "id"}, "order": {"field": "i", "type": "quantitative"},
      "strokeDash": {"field": "id", "type": "nominal", "scale": {"domain": ["h","v"], "range": [[6,3],[7,2,1.5,2]]}, "legend": null}}},
    {"data": {"name": "mk"}, "transform": [{"filter": "datum.s=='ac'"}],
     "mark": {"type": "point", "shape": "M-1,0A1,1,0,1,1,1,0A1,1,0,1,1,-1,0Z M-0.7,-0.7L0.7,0.7M0.7,-0.7L-0.7,0.7", "size": 81, "filled": true, "fill": "white", "stroke": "#444", "strokeWidth": 0.9, "opacity": 1},
     "encoding": {"x": {"field": "x", "type": "quantitative", "axis": null}, "y": {"field": "y", "type": "quantitative", "axis": null}}},
    {"data": {"name": "lab"}, "transform": [{"filter": "datum.p=='a'"}],
     "mark": {"type": "text", "align": "left", "baseline": "middle", "font": "Liberation Serif", "fontSize": 10.5, "color": "#111"},
     "encoding": {"x": {"field": "x", "type": "quantitative", "axis": null}, "y": {"field": "y", "type": "quantitative", "axis": null}, "text": {"field": "t"}}},
    {"data": {"name": "mk"}, "transform": [{"filter": "datum.s=='ac'"}],
     "mark": {"type": "point", "opacity": 0},
     "encoding": {
      "x": {"field": "x", "type": "quantitative", "axis": {"orient": "top", "title": null, "labels": false, "values": [0.1,0.2,0.3,0.4,0.5,0.6,0.7,0.8,0.9,1,2,3,4,5,6,7,8,9,10,20,30,40,50,60,70,80,90,100,200,300,400,500,600,700,800,900,1000], "tickSize": {"condition": {"test": "indexof([0.1,1,10,100,1000,10000],datum.value)>=0", "value": -5}, "value": -2.5}}},
      "y": {"field": "y", "type": "quantitative", "axis": {"orient": "right", "title": null, "labels": false, "values": [10,20,30,40,50,60,70,80,90,100,200,300,400,500,600,700,800,900,1000,2000,3000,4000,5000,6000,7000,8000,9000,10000], "tickSize": {"condition": {"test": "indexof([0.1,1,10,100,1000,10000],datum.value)>=0", "value": -5}, "value": -2.5}}}
     }}
   ],
   "resolve": {"axis": {"x": "independent", "y": "independent"}}
  },
  {
   "width": 183, "height": 136,
   "title": {"text": "(b)"},
   "layer": [
    {"data": {"name": "cont"}, "transform": [{"filter": "datum.p=='b'"}],
     "mark": {"type": "line", "interpolate": "catmull-rom", "strokeWidth": 0, "clip": true},
     "encoding": {
      "x": {"field": "x", "type": "quantitative", "scale": {"type": "log", "domain": [0.1, 1000]},
       "axis": {"orient": "bottom", "title": null, "labelFont": "Liberation Serif", "values": [0.1,0.2,0.3,0.4,0.5,0.6,0.7,0.8,0.9,1,2,3,4,5,6,7,8,9,10,20,30,40,50,60,70,80,90,100,200,300,400,500,600,700,800,900,1000], "labelExpr": "datum.value==0.1?'10⁻¹':datum.value==1?'10⁰':datum.value==10?'10¹':datum.value==100?'10²':datum.value==1000?'10³':''", "tickSize": {"condition": {"test": "indexof([0.1,1,10,100,1000,10000],datum.value)>=0", "value": -5}, "value": -2.5}}},
      "y": {"field": "y", "type": "quantitative", "scale": {"type": "log", "domain": [10, 10000]},
       "axis": {"orient": "left", "title": "λᵧ⁺", "labelFont": "Liberation Serif", "titleAngle": 0, "titleFontStyle": "italic", "titleX": -32, "titleY": 70, "titleAlign": "center", "titleBaseline": "middle", "values": [10,20,30,40,50,60,70,80,90,100,200,300,400,500,600,700,800,900,1000,2000,3000,4000,5000,6000,7000,8000,9000,10000], "labelExpr": "datum.value==10?'10¹':datum.value==100?'10²':datum.value==1000?'10³':datum.value==10000?'10⁴':''", "tickSize": {"condition": {"test": "indexof([0.1,1,10,100,1000,10000],datum.value)>=0", "value": -5}, "value": -2.5}}},
      "detail": {"field": "id"}, "order": {"field": "i", "type": "quantitative"},
      "fill": {"field": "lev", "type": "ordinal", "scale": {"domain": [1,2,3,4,5,6,7,8,9], "range": ["#f1f6fb","#e8f0f8","#deebf6","#d3e4f2","#bcd6ec","#9cc3e3","#6aa8d6","#3a86c3","#0e4f96"]}, "legend": null}
     }},
    {"data": {"name": "shade"}, "transform": [{"filter": "datum.p=='b'"}],
     "mark": {"type": "line", "interpolate": "catmull-rom", "strokeWidth": 0, "clip": true, "fillOpacity": 0.8},
     "encoding": {"x": {"field": "x", "type": "quantitative", "axis": null}, "y": {"field": "y", "type": "quantitative", "axis": null}, "detail": {"field": "id"}, "order": {"field": "i", "type": "quantitative"}, "fill": {"field": "lev", "type": "ordinal", "legend": null}}},
    {"data": {"name": "cont"}, "transform": [{"filter": "datum.p=='b'"}],
     "mark": {"type": "line", "interpolate": "catmull-rom", "color": "#262626", "strokeWidth": 0.9, "clip": true},
     "encoding": {"x": {"field": "x", "type": "quantitative", "axis": null}, "y": {"field": "y", "type": "quantitative", "axis": null}, "detail": {"field": "id"}, "order": {"field": "i", "type": "quantitative"}}},
    {"data": {"name": "red"}, "transform": [{"filter": "datum.s=='bd'"}],
     "mark": {"type": "line", "interpolate": "catmull-rom", "color": "#e3262b", "strokeWidth": 1.2},
     "encoding": {"x": {"field": "x", "type": "quantitative", "axis": null}, "y": {"field": "y", "type": "quantitative", "axis": null}, "detail": {"field": "id"}, "order": {"field": "i", "type": "quantitative"}}},
    {"data": {"name": "guide"}, "transform": [{"filter": "datum.s=='bd'"}],
     "mark": {"type": "line", "color": "#8a8a8a", "strokeWidth": 1},
     "encoding": {"x": {"field": "x", "type": "quantitative", "axis": null}, "y": {"field": "y", "type": "quantitative", "axis": null}, "detail": {"field": "id"}, "order": {"field": "i", "type": "quantitative"},
      "strokeDash": {"field": "id", "type": "nominal", "scale": {"domain": ["h","v"], "range": [[6,3],[7,2,1.5,2]]}, "legend": null}}},
    {"data": {"name": "mk"}, "transform": [{"filter": "datum.s=='bd'"}],
     "mark": {"type": "point", "shape": "M-1,0A1,1,0,1,1,1,0A1,1,0,1,1,-1,0Z M-0.7,-0.7L0.7,0.7M0.7,-0.7L-0.7,0.7", "size": 81, "filled": true, "fill": "white", "stroke": "#444", "strokeWidth": 0.9, "opacity": 1},
     "encoding": {"x": {"field": "x", "type": "quantitative", "axis": null}, "y": {"field": "y", "type": "quantitative", "axis": null}}},
    {"data": {"name": "lab"}, "transform": [{"filter": "datum.p=='b'"}],
     "mark": {"type": "text", "align": "left", "baseline": "middle", "font": "Liberation Serif", "fontSize": 10.5, "color": "#111"},
     "encoding": {"x": {"field": "x", "type": "quantitative", "axis": null}, "y": {"field": "y", "type": "quantitative", "axis": null}, "text": {"field": "t"}}},
    {"data": {"name": "mk"}, "transform": [{"filter": "datum.s=='bd'"}],
     "mark": {"type": "point", "opacity": 0},
     "encoding": {
      "x": {"field": "x", "type": "quantitative", "axis": {"orient": "top", "title": null, "labels": false, "values": [0.1,0.2,0.3,0.4,0.5,0.6,0.7,0.8,0.9,1,2,3,4,5,6,7,8,9,10,20,30,40,50,60,70,80,90,100,200,300,400,500,600,700,800,900,1000], "tickSize": {"condition": {"test": "indexof([0.1,1,10,100,1000,10000],datum.value)>=0", "value": -5}, "value": -2.5}}},
      "y": {"field": "y", "type": "quantitative", "axis": {"orient": "right", "title": null, "labels": false, "values": [10,20,30,40,50,60,70,80,90,100,200,300,400,500,600,700,800,900,1000,2000,3000,4000,5000,6000,7000,8000,9000,10000], "tickSize": {"condition": {"test": "indexof([0.1,1,10,100,1000,10000],datum.value)>=0", "value": -5}, "value": -2.5}}}
     }}
   ],
   "resolve": {"axis": {"x": "independent", "y": "independent"}}
  },
  {
   "width": 183, "height": 136,
   "title": {"text": "(c)"},
   "layer": [
    {"data": {"name": "cont"}, "transform": [{"filter": "datum.p=='c'"}],
     "mark": {"type": "line", "interpolate": "catmull-rom", "strokeWidth": 0, "clip": true},
     "encoding": {
      "x": {"field": "x", "type": "quantitative", "scale": {"type": "log", "domain": [0.1, 1000]},
       "axis": {"orient": "bottom", "title": "z⁺", "labelFont": "Liberation Serif", "titleFontStyle": "italic", "titleFontSize": 12.5, "titlePadding": 0, "values": [0.1,0.2,0.3,0.4,0.5,0.6,0.7,0.8,0.9,1,2,3,4,5,6,7,8,9,10,20,30,40,50,60,70,80,90,100,200,300,400,500,600,700,800,900,1000], "labelExpr": "datum.value==0.1?'10⁻¹':datum.value==1?'10⁰':datum.value==10?'10¹':datum.value==100?'10²':datum.value==1000?'10³':''", "tickSize": {"condition": {"test": "indexof([0.1,1,10,100,1000,10000],datum.value)>=0", "value": -5}, "value": -2.5}}},
      "y": {"field": "y", "type": "quantitative", "scale": {"type": "log", "domain": [10, 10000]},
       "axis": {"orient": "left", "title": "λₓ⁺", "labelFont": "Liberation Serif", "titleAngle": 0, "titleFontStyle": "italic", "titleX": -32, "titleY": 70, "titleAlign": "center", "titleBaseline": "middle", "values": [10,20,30,40,50,60,70,80,90,100,200,300,400,500,600,700,800,900,1000,2000,3000,4000,5000,6000,7000,8000,9000,10000], "labelExpr": "datum.value==10?'10¹':datum.value==100?'10²':datum.value==1000?'10³':datum.value==10000?'10⁴':''", "tickSize": {"condition": {"test": "indexof([0.1,1,10,100,1000,10000],datum.value)>=0", "value": -5}, "value": -2.5}}},
      "detail": {"field": "id"}, "order": {"field": "i", "type": "quantitative"},
      "fill": {"field": "lev", "type": "ordinal", "scale": {"domain": [1,2,3,4,5,6,7,8,9], "range": ["#f1f6fb","#e8f0f8","#deebf6","#d3e4f2","#bcd6ec","#9cc3e3","#6aa8d6","#3a86c3","#0e4f96"]}, "legend": null}
     }},
    {"data": {"name": "shade"}, "transform": [{"filter": "datum.p=='c'"}],
     "mark": {"type": "line", "interpolate": "catmull-rom", "strokeWidth": 0, "clip": true, "fillOpacity": 0.8},
     "encoding": {"x": {"field": "x", "type": "quantitative", "axis": null}, "y": {"field": "y", "type": "quantitative", "axis": null}, "detail": {"field": "id"}, "order": {"field": "i", "type": "quantitative"}, "fill": {"field": "lev", "type": "ordinal", "legend": null}}},
    {"data": {"name": "cont"}, "transform": [{"filter": "datum.p=='c'"}],
     "mark": {"type": "line", "interpolate": "catmull-rom", "color": "#262626", "strokeWidth": 0.9, "clip": true},
     "encoding": {"x": {"field": "x", "type": "quantitative", "axis": null}, "y": {"field": "y", "type": "quantitative", "axis": null}, "detail": {"field": "id"}, "order": {"field": "i", "type": "quantitative"}}},
    {"data": {"name": "red"}, "transform": [{"filter": "datum.s=='ac'"}],
     "mark": {"type": "line", "interpolate": "catmull-rom", "color": "#e3262b", "strokeWidth": 1.2},
     "encoding": {"x": {"field": "x", "type": "quantitative", "axis": null}, "y": {"field": "y", "type": "quantitative", "axis": null}, "detail": {"field": "id"}, "order": {"field": "i", "type": "quantitative"}}},
    {"data": {"name": "guide"}, "transform": [{"filter": "datum.s=='ac'"}],
     "mark": {"type": "line", "color": "#8a8a8a", "strokeWidth": 1},
     "encoding": {"x": {"field": "x", "type": "quantitative", "axis": null}, "y": {"field": "y", "type": "quantitative", "axis": null}, "detail": {"field": "id"}, "order": {"field": "i", "type": "quantitative"},
      "strokeDash": {"field": "id", "type": "nominal", "scale": {"domain": ["h","v"], "range": [[6,3],[7,2,1.5,2]]}, "legend": null}}},
    {"data": {"name": "mk"}, "transform": [{"filter": "datum.s=='ac'"}],
     "mark": {"type": "point", "shape": "M-1,0A1,1,0,1,1,1,0A1,1,0,1,1,-1,0Z M-0.7,-0.7L0.7,0.7M0.7,-0.7L-0.7,0.7", "size": 81, "filled": true, "fill": "white", "stroke": "#444", "strokeWidth": 0.9, "opacity": 1},
     "encoding": {"x": {"field": "x", "type": "quantitative", "axis": null}, "y": {"field": "y", "type": "quantitative", "axis": null}}},
    {"data": {"name": "lab"}, "transform": [{"filter": "datum.p=='c'"}],
     "mark": {"type": "text", "align": "left", "baseline": "middle", "font": "Liberation Serif", "fontSize": 10.5, "color": "#111"},
     "encoding": {"x": {"field": "x", "type": "quantitative", "axis": null}, "y": {"field": "y", "type": "quantitative", "axis": null}, "text": {"field": "t"}}},
    {"data": {"name": "mk"}, "transform": [{"filter": "datum.s=='ac'"}],
     "mark": {"type": "point", "opacity": 0},
     "encoding": {
      "x": {"field": "x", "type": "quantitative", "axis": {"orient": "top", "title": null, "labels": false, "values": [0.1,0.2,0.3,0.4,0.5,0.6,0.7,0.8,0.9,1,2,3,4,5,6,7,8,9,10,20,30,40,50,60,70,80,90,100,200,300,400,500,600,700,800,900,1000], "tickSize": {"condition": {"test": "indexof([0.1,1,10,100,1000,10000],datum.value)>=0", "value": -5}, "value": -2.5}}},
      "y": {"field": "y", "type": "quantitative", "axis": {"orient": "right", "title": null, "labels": false, "values": [10,20,30,40,50,60,70,80,90,100,200,300,400,500,600,700,800,900,1000,2000,3000,4000,5000,6000,7000,8000,9000,10000], "tickSize": {"condition": {"test": "indexof([0.1,1,10,100,1000,10000],datum.value)>=0", "value": -5}, "value": -2.5}}}
     }}
   ],
   "resolve": {"axis": {"x": "independent", "y": "independent"}}
  },
  {
   "width": 183, "height": 136,
   "title": {"text": "(d)"},
   "layer": [
    {"data": {"name": "cont"}, "transform": [{"filter": "datum.p=='d'"}],
     "mark": {"type": "line", "interpolate": "catmull-rom", "strokeWidth": 0, "clip": true},
     "encoding": {
      "x": {"field": "x", "type": "quantitative", "scale": {"type": "log", "domain": [0.1, 1000]},
       "axis": {"orient": "bottom", "title": "z⁺", "labelFont": "Liberation Serif", "titleFontStyle": "italic", "titleFontSize": 12.5, "titlePadding": 0, "values": [0.1,0.2,0.3,0.4,0.5,0.6,0.7,0.8,0.9,1,2,3,4,5,6,7,8,9,10,20,30,40,50,60,70,80,90,100,200,300,400,500,600,700,800,900,1000], "labelExpr": "datum.value==0.1?'10⁻¹':datum.value==1?'10⁰':datum.value==10?'10¹':datum.value==100?'10²':datum.value==1000?'10³':''", "tickSize": {"condition": {"test": "indexof([0.1,1,10,100,1000,10000],datum.value)>=0", "value": -5}, "value": -2.5}}},
      "y": {"field": "y", "type": "quantitative", "scale": {"type": "log", "domain": [10, 10000]},
       "axis": {"orient": "left", "title": "λᵧ⁺", "labelFont": "Liberation Serif", "titleAngle": 0, "titleFontStyle": "italic", "titleX": -32, "titleY": 70, "titleAlign": "center", "titleBaseline": "middle", "values": [10,20,30,40,50,60,70,80,90,100,200,300,400,500,600,700,800,900,1000,2000,3000,4000,5000,6000,7000,8000,9000,10000], "labelExpr": "datum.value==10?'10¹':datum.value==100?'10²':datum.value==1000?'10³':datum.value==10000?'10⁴':''", "tickSize": {"condition": {"test": "indexof([0.1,1,10,100,1000,10000],datum.value)>=0", "value": -5}, "value": -2.5}}},
      "detail": {"field": "id"}, "order": {"field": "i", "type": "quantitative"},
      "fill": {"field": "lev", "type": "ordinal", "scale": {"domain": [1,2,3,4,5,6,7,8,9], "range": ["#f1f6fb","#e8f0f8","#deebf6","#d3e4f2","#bcd6ec","#9cc3e3","#6aa8d6","#3a86c3","#0e4f96"]}, "legend": null}
     }},
    {"data": {"name": "shade"}, "transform": [{"filter": "datum.p=='d'"}],
     "mark": {"type": "line", "interpolate": "catmull-rom", "strokeWidth": 0, "clip": true, "fillOpacity": 0.85},
     "encoding": {"x": {"field": "x", "type": "quantitative", "axis": null}, "y": {"field": "y", "type": "quantitative", "axis": null}, "detail": {"field": "id"}, "order": {"field": "i", "type": "quantitative"}, "fill": {"field": "lev", "type": "ordinal", "legend": null}}},
    {"data": {"name": "cont"}, "transform": [{"filter": "datum.p=='d'"}],
     "mark": {"type": "line", "interpolate": "catmull-rom", "color": "#262626", "strokeWidth": 0.9, "clip": true},
     "encoding": {"x": {"field": "x", "type": "quantitative", "axis": null}, "y": {"field": "y", "type": "quantitative", "axis": null}, "detail": {"field": "id"}, "order": {"field": "i", "type": "quantitative"}}},
    {"data": {"name": "red"}, "transform": [{"filter": "datum.s=='bd'"}],
     "mark": {"type": "line", "interpolate": "catmull-rom", "color": "#e3262b", "strokeWidth": 1.2},
     "encoding": {"x": {"field": "x", "type": "quantitative", "axis": null}, "y": {"field": "y", "type": "quantitative", "axis": null}, "detail": {"field": "id"}, "order": {"field": "i", "type": "quantitative"}}},
    {"data": {"name": "guide"}, "transform": [{"filter": "datum.s=='bd'"}],
     "mark": {"type": "line", "color": "#8a8a8a", "strokeWidth": 1},
     "encoding": {"x": {"field": "x", "type": "quantitative", "axis": null}, "y": {"field": "y", "type": "quantitative", "axis": null}, "detail": {"field": "id"}, "order": {"field": "i", "type": "quantitative"},
      "strokeDash": {"field": "id", "type": "nominal", "scale": {"domain": ["h","v"], "range": [[6,3],[7,2,1.5,2]]}, "legend": null}}},
    {"data": {"name": "mk"}, "transform": [{"filter": "datum.s=='bd'"}],
     "mark": {"type": "point", "shape": "M-1,0A1,1,0,1,1,1,0A1,1,0,1,1,-1,0Z M-0.7,-0.7L0.7,0.7M0.7,-0.7L-0.7,0.7", "size": 81, "filled": true, "fill": "white", "stroke": "#444", "strokeWidth": 0.9, "opacity": 1},
     "encoding": {"x": {"field": "x", "type": "quantitative", "axis": null}, "y": {"field": "y", "type": "quantitative", "axis": null}}},
    {"data": {"name": "lab"}, "transform": [{"filter": "datum.p=='d'"}],
     "mark": {"type": "text", "align": "left", "baseline": "middle", "font": "Liberation Serif", "fontSize": 10.5, "color": "#111"},
     "encoding": {"x": {"field": "x", "type": "quantitative", "axis": null}, "y": {"field": "y", "type": "quantitative", "axis": null}, "text": {"field": "t"}}},
    {"data": {"name": "mk"}, "transform": [{"filter": "datum.s=='bd'"}],
     "mark": {"type": "point", "opacity": 0},
     "encoding": {
      "x": {"field": "x", "type": "quantitative", "axis": {"orient": "top", "title": null, "labels": false, "values": [0.1,0.2,0.3,0.4,0.5,0.6,0.7,0.8,0.9,1,2,3,4,5,6,7,8,9,10,20,30,40,50,60,70,80,90,100,200,300,400,500,600,700,800,900,1000], "tickSize": {"condition": {"test": "indexof([0.1,1,10,100,1000,10000],datum.value)>=0", "value": -5}, "value": -2.5}}},
      "y": {"field": "y", "type": "quantitative", "axis": {"orient": "right", "title": null, "labels": false, "values": [10,20,30,40,50,60,70,80,90,100,200,300,400,500,600,700,800,900,1000,2000,3000,4000,5000,6000,7000,8000,9000,10000], "tickSize": {"condition": {"test": "indexof([0.1,1,10,100,1000,10000],datum.value)>=0", "value": -5}, "value": -2.5}}}
     }}
   ],
   "resolve": {"axis": {"x": "independent", "y": "independent"}}
  }
 ]
}
